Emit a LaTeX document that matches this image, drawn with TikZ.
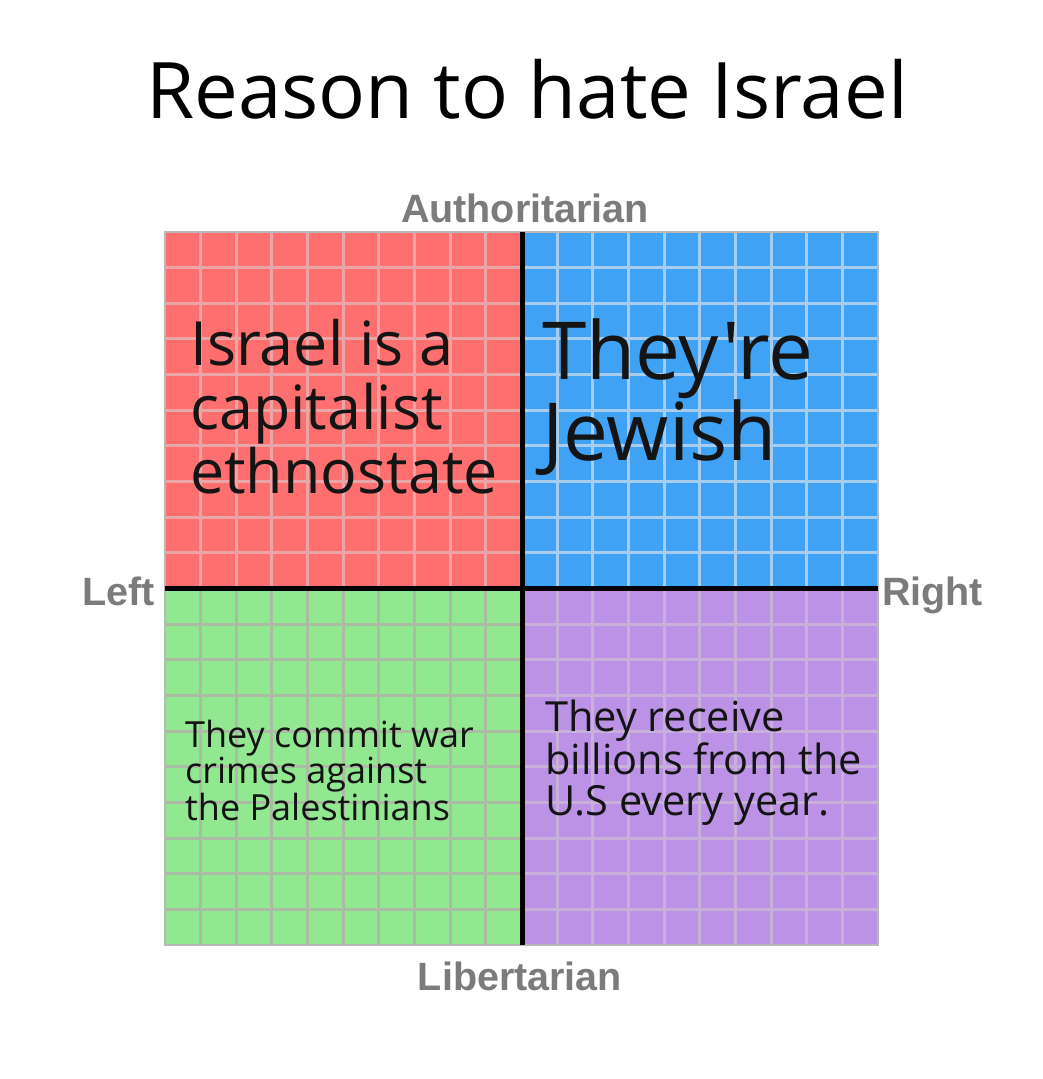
\documentclass[tikz,border=0pt]{standalone}
\usepackage{fontspec}
\setmainfont{Open Sans}
\newfontfamily\plainopen{Open Sans}
\newfontfamily\axisfont{Liberation Sans}
\usepackage{xcolor}
\usetikzlibrary{positioning}

\definecolor{authleft}{HTML}{FF6F6F}
\definecolor{authright}{HTML}{40A2F4}
\definecolor{libleft}{HTML}{92E890}
\definecolor{libright}{HTML}{BC92E6}
\definecolor{authleftgrid}{HTML}{E9A6A6}
\definecolor{authrightgrid}{HTML}{A6CCF0}
\definecolor{libleftgrid}{HTML}{AABDA4}
\definecolor{librightgrid}{HTML}{C9B0DA}
\definecolor{axisgray}{HTML}{7B7B7B}

\begin{document}
\begin{tikzpicture}[
    x=1pt, y=-1pt,
    gridline/.style={draw=#1, line width=3pt},
    axislabel/.style={font=\axisfont\bfseries\fontsize{39.5}{41}\selectfont, text=axisgray, inner sep=0pt},
    quadtext/.style={align=left, inner sep=0pt, anchor=base west, text=black!92},
]
    \useasboundingbox (0,0) rectangle (1043,1079);
    \fill[white] (0,0) rectangle (1043,1079);

    % quadrants with their grids
    \foreach \qx/\qy/\qfill/\qgrid in {165/232/authleft/authleftgrid, 521.5/232/authright/authrightgrid,
                                       165/588.5/libleft/libleftgrid, 521.5/588.5/libright/librightgrid} {
        \fill[\qfill] (\qx,\qy) rectangle ++(356.5,356.5);
        \foreach \k in {1,...,9} {
            \draw[gridline=\qgrid] (\qx+\k*35.65,\qy) -- ++(0,356.5);
            \draw[gridline=\qgrid] (\qx,\qy+\k*35.65) -- ++(356.5,0);
        }
    }
    \draw[gray!55, line width=2pt] (165,232) rectangle (878,945);
    \draw[black, line width=5pt] (522,232) -- (522,945);
    \draw[black, line width=5pt] (165,588) -- (878,588);

    % title and axes
    \node[inner sep=0pt, anchor=base, font=\fontsize{78}{84}\selectfont] (title) at (527,118) {Reason to hate Israel};
    \node[axislabel, anchor=base] (auth) at (525,222) {Authoritarian};
    \node[axislabel, anchor=base] (lib) at (520,990) {Libertarian};
    \node[axislabel, anchor=base east] (left) at (155,605) {Left};
    \node[axislabel, anchor=base west] (right) at (882,605) {Right};

    % quadrant texts (placed at the baseline of their last line)
    \node[quadtext, font=\fontsize{61}{64}\selectfont] (capitalist) at (190,493) {Israel is a\\capitalist\\ethnostate};
    \node[quadtext, font=\plainopen\fontsize{80}{78}\selectfont] (jewish) at (542,460) {They're\\Jewish};
    \node[quadtext, font=\fontsize{36}{36.5}\selectfont] (warcrimes) at (185,820) {They commit war\\crimes against\\the Palestinians};
    \node[quadtext, font=\fontsize{41.5}{41}\selectfont] (billions) at (545,815) {They receive\\billions from the\\U.S every year.};

\end{tikzpicture}
\end{document}
